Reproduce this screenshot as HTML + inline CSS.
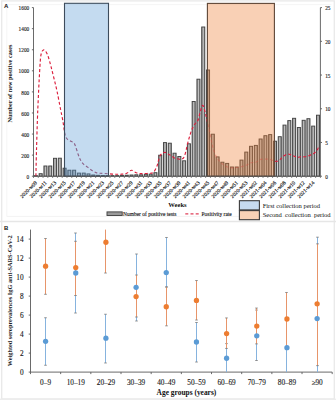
<!DOCTYPE html><html><head><meta charset="utf-8"><style>
html,body{margin:0;padding:0;background:#fff;width:336px;height:400px;overflow:hidden}
svg{display:block}
.s{font-family:"Liberation Serif",serif}
.ss{font-family:"Liberation Sans",sans-serif}
</style></head><body>
<svg width="336" height="400" viewBox="0 0 336 400">
<rect width="336" height="400" fill="#fff"/>
<g fill="none">
<path d="M6.8,216.4V4.6H331.5" stroke="#f5f5f5" stroke-width="1"/>
<path d="M6.8,216.4H331.5" stroke="#f3f3f3" stroke-width="1"/>
<rect x="1.7" y="0.9" width="332.6" height="398" stroke="#e9e9e9" stroke-width="1.3"/>
<line x1="0" y1="221.6" x2="336" y2="221.6" stroke="#e6e6e6" stroke-width="1.5"/>
</g>
<rect x="0" y="398.6" width="336" height="1.4" fill="#ededed"/>
<text class="ss" x="4" y="8.3" font-size="6.0" font-weight="bold" fill="#111">A</text>
<defs><linearGradient id="bg" x1="0" x2="1" y1="0" y2="0"><stop offset="0" stop-color="#747474"/><stop offset="0.5" stop-color="#bcbcbc"/><stop offset="1" stop-color="#747474"/></linearGradient></defs>
<g fill="url(#bg)" fill-opacity="0.92" stroke="#444" stroke-width="0.95">
<rect x="34.37" y="175.70" width="3.05" height="0.50"/>
<rect x="39.15" y="173.70" width="3.05" height="2.50"/>
<rect x="43.93" y="166.00" width="3.05" height="10.20"/>
<rect x="48.71" y="166.00" width="3.05" height="10.20"/>
<rect x="53.49" y="158.30" width="3.05" height="17.90"/>
<rect x="58.27" y="158.20" width="3.05" height="18.00"/>
<rect x="63.06" y="168.20" width="3.05" height="8.00"/>
<rect x="67.84" y="170.20" width="3.05" height="6.00"/>
<rect x="72.62" y="170.20" width="3.05" height="6.00"/>
<rect x="77.40" y="173.10" width="3.05" height="3.10"/>
<rect x="82.18" y="173.10" width="3.05" height="3.10"/>
<rect x="86.96" y="173.90" width="3.05" height="2.30"/>
<rect x="91.75" y="175.00" width="3.05" height="1.20"/>
<rect x="96.53" y="175.30" width="3.05" height="0.90"/>
<rect x="101.31" y="175.50" width="3.05" height="0.70"/>
<rect x="106.09" y="175.50" width="3.05" height="0.70"/>
<rect x="110.87" y="175.60" width="3.05" height="0.60"/>
<rect x="115.65" y="175.60" width="3.05" height="0.60"/>
<rect x="120.44" y="175.40" width="3.05" height="0.80"/>
<rect x="125.22" y="175.20" width="3.05" height="1.00"/>
<rect x="130.00" y="175.00" width="3.05" height="1.20"/>
<rect x="134.78" y="174.80" width="3.05" height="1.40"/>
<rect x="139.56" y="174.80" width="3.05" height="1.40"/>
<rect x="144.34" y="174.30" width="3.05" height="1.90"/>
<rect x="149.13" y="174.10" width="3.05" height="2.10"/>
<rect x="153.91" y="172.70" width="3.05" height="3.50"/>
<rect x="158.69" y="155.20" width="3.05" height="21.00"/>
<rect x="163.47" y="142.60" width="3.05" height="33.60"/>
<rect x="168.25" y="143.20" width="3.05" height="33.00"/>
<rect x="173.03" y="153.20" width="3.05" height="23.00"/>
<rect x="177.82" y="156.50" width="3.05" height="19.70"/>
<rect x="182.60" y="160.80" width="3.05" height="15.40"/>
<rect x="187.38" y="143.80" width="3.05" height="32.40"/>
<rect x="192.16" y="101.50" width="3.05" height="74.70"/>
<rect x="196.94" y="79.20" width="3.05" height="97.00"/>
<rect x="201.72" y="27.00" width="3.05" height="149.20"/>
<rect x="206.51" y="70.00" width="3.05" height="106.20"/>
<rect x="211.29" y="134.20" width="3.05" height="42.00"/>
<rect x="216.07" y="156.90" width="3.05" height="19.30"/>
<rect x="220.85" y="162.20" width="3.05" height="14.00"/>
<rect x="225.63" y="163.40" width="3.05" height="12.80"/>
<rect x="230.41" y="167.00" width="3.05" height="9.20"/>
<rect x="235.20" y="167.00" width="3.05" height="9.20"/>
<rect x="239.98" y="160.10" width="3.05" height="16.10"/>
<rect x="244.76" y="152.10" width="3.05" height="24.10"/>
<rect x="249.54" y="146.30" width="3.05" height="29.90"/>
<rect x="254.32" y="145.40" width="3.05" height="30.80"/>
<rect x="259.10" y="139.00" width="3.05" height="37.20"/>
<rect x="263.89" y="135.70" width="3.05" height="40.50"/>
<rect x="268.67" y="134.60" width="3.05" height="41.60"/>
<rect x="273.45" y="141.20" width="3.05" height="35.00"/>
<rect x="278.23" y="136.70" width="3.05" height="39.50"/>
<rect x="283.01" y="125.10" width="3.05" height="51.10"/>
<rect x="287.79" y="120.60" width="3.05" height="55.60"/>
<rect x="292.58" y="118.30" width="3.05" height="57.90"/>
<rect x="297.36" y="127.50" width="3.05" height="48.70"/>
<rect x="302.14" y="120.30" width="3.05" height="55.90"/>
<rect x="306.92" y="118.70" width="3.05" height="57.50"/>
<rect x="311.70" y="126.10" width="3.05" height="50.10"/>
<rect x="316.48" y="115.20" width="3.05" height="61.00"/>
</g>
<defs><clipPath id="cOut"><path d="M0,0H64.5V180H0Z M108.5,0H207.4V180H108.5Z M274.4,0H336V180H274.4Z"/></clipPath><clipPath id="cB"><rect x="64.5" y="0" width="44" height="180"/></clipPath><clipPath id="cO"><rect x="207.4" y="0" width="67" height="180"/></clipPath></defs>
<path id="rl" d="M35.90,176.00 C36.00,171.67 36.25,159.33 36.50,150.00 C36.75,140.67 37.10,128.67 37.40,120.00 C37.70,111.33 37.98,105.08 38.30,98.00 C38.62,90.92 38.93,84.08 39.30,77.50 C39.67,70.92 40.08,62.75 40.50,58.50 C40.92,54.25 41.32,53.42 41.80,52.00 C42.28,50.58 42.85,50.23 43.40,50.00 C43.95,49.77 44.53,50.07 45.10,50.60 C45.67,51.13 46.23,52.05 46.80,53.20 C47.37,54.35 47.80,55.28 48.50,57.50 C49.20,59.72 50.08,63.00 51.00,66.50 C51.92,70.00 53.00,74.42 54.00,78.50 C55.00,82.58 55.92,85.92 57.00,91.00 C58.08,96.08 59.53,104.08 60.50,109.00 C61.47,113.92 62.17,116.92 62.80,120.50 C63.43,124.08 63.83,127.82 64.30,130.50 C64.77,133.18 65.02,135.08 65.60,136.60 C66.18,138.12 66.90,138.82 67.80,139.60 C68.70,140.38 70.02,140.80 71.00,141.30 C71.98,141.80 72.93,141.73 73.70,142.60 C74.47,143.47 74.85,144.52 75.60,146.50 C76.35,148.48 77.38,152.25 78.20,154.50 C79.02,156.75 79.62,158.38 80.50,160.00 C81.38,161.62 82.25,162.97 83.50,164.20 C84.75,165.43 86.50,166.30 88.00,167.40 C89.50,168.50 91.17,169.93 92.50,170.80 C93.83,171.67 94.75,172.18 96.00,172.60 C97.25,173.02 98.50,173.15 100.00,173.30 C101.50,173.45 102.93,173.37 105.00,173.50 C107.07,173.63 110.37,173.98 112.40,174.10 C114.43,174.22 115.60,174.20 117.20,174.20 C118.80,174.20 120.40,174.27 122.00,174.10 C123.60,173.93 125.22,173.83 126.80,173.20 C128.38,172.57 129.92,170.37 131.50,170.30 C133.08,170.23 134.70,172.25 136.30,172.80 C137.90,173.35 139.50,173.48 141.10,173.60 C142.70,173.72 144.30,173.57 145.90,173.50 C147.50,173.43 149.38,173.45 150.70,173.20 C152.02,172.95 152.77,173.15 153.80,172.00 C154.83,170.85 156.13,168.17 156.90,166.30 C157.67,164.43 157.85,162.58 158.40,160.80 C158.95,159.02 159.52,156.88 160.20,155.60 C160.88,154.32 161.60,153.62 162.50,153.10 C163.40,152.58 164.55,152.28 165.60,152.50 C166.65,152.72 167.82,153.85 168.80,154.40 C169.78,154.95 170.57,155.20 171.50,155.80 C172.43,156.40 173.40,157.50 174.40,158.00 C175.40,158.50 176.35,158.60 177.50,158.80 C178.65,159.00 180.13,159.67 181.30,159.20 C182.47,158.73 183.33,159.03 184.50,156.00 C185.67,152.97 187.13,145.25 188.30,141.00 C189.47,136.75 190.47,133.25 191.50,130.50 C192.53,127.75 193.43,126.17 194.50,124.50 C195.57,122.83 196.93,122.67 197.90,120.50 C198.87,118.33 199.48,114.02 200.30,111.50 C201.12,108.98 201.95,105.10 202.80,105.40 C203.65,105.70 204.65,110.62 205.40,113.30 C206.15,115.98 206.58,118.47 207.30,121.50 C208.02,124.53 208.87,127.58 209.70,131.50 C210.53,135.42 211.45,141.43 212.30,145.00 C213.15,148.57 213.97,150.63 214.80,152.90 C215.63,155.17 216.28,157.00 217.30,158.60 C218.32,160.20 219.57,161.27 220.90,162.50 C222.23,163.73 223.70,165.12 225.30,166.00 C226.90,166.88 228.75,167.53 230.50,167.80 C232.25,168.07 234.00,167.77 235.80,167.60 C237.60,167.43 239.55,167.20 241.30,166.80 C243.05,166.40 244.81,165.82 246.30,165.20 C247.79,164.58 249.15,163.55 250.25,163.10 C251.35,162.65 252.04,162.58 252.90,162.50 C253.76,162.42 254.48,162.92 255.40,162.60 C256.32,162.28 257.53,161.13 258.40,160.60 C259.27,160.07 259.67,159.65 260.60,159.40 C261.53,159.15 262.92,159.15 264.00,159.10 C265.08,159.05 266.06,159.05 267.10,159.10 C268.14,159.15 269.10,159.08 270.25,159.40 C271.40,159.72 272.92,160.68 274.00,161.00 C275.08,161.32 275.82,161.47 276.75,161.30 C277.68,161.13 278.81,160.53 279.60,160.00 C280.39,159.47 280.68,158.85 281.50,158.10 C282.32,157.35 283.45,156.18 284.50,155.50 C285.55,154.82 286.70,154.10 287.80,154.00 C288.90,153.90 290.00,154.53 291.10,154.90 C292.20,155.27 293.32,155.80 294.40,156.20 C295.48,156.60 296.52,157.20 297.60,157.30 C298.68,157.40 299.80,156.88 300.90,156.80 C302.00,156.72 303.10,156.90 304.20,156.80 C305.30,156.70 306.42,156.52 307.50,156.20 C308.58,155.88 309.62,155.37 310.70,154.90 C311.78,154.43 312.90,154.25 314.00,153.40 C315.10,152.55 316.57,150.78 317.30,149.80 C318.03,148.82 318.22,147.88 318.40,147.50" fill="none" stroke="#dc1e3c" stroke-width="1.15" stroke-dasharray="3,2.2" clip-path="url(#cOut)"/>
<path d="M35.90,176.00 C36.00,171.67 36.25,159.33 36.50,150.00 C36.75,140.67 37.10,128.67 37.40,120.00 C37.70,111.33 37.98,105.08 38.30,98.00 C38.62,90.92 38.93,84.08 39.30,77.50 C39.67,70.92 40.08,62.75 40.50,58.50 C40.92,54.25 41.32,53.42 41.80,52.00 C42.28,50.58 42.85,50.23 43.40,50.00 C43.95,49.77 44.53,50.07 45.10,50.60 C45.67,51.13 46.23,52.05 46.80,53.20 C47.37,54.35 47.80,55.28 48.50,57.50 C49.20,59.72 50.08,63.00 51.00,66.50 C51.92,70.00 53.00,74.42 54.00,78.50 C55.00,82.58 55.92,85.92 57.00,91.00 C58.08,96.08 59.53,104.08 60.50,109.00 C61.47,113.92 62.17,116.92 62.80,120.50 C63.43,124.08 63.83,127.82 64.30,130.50 C64.77,133.18 65.02,135.08 65.60,136.60 C66.18,138.12 66.90,138.82 67.80,139.60 C68.70,140.38 70.02,140.80 71.00,141.30 C71.98,141.80 72.93,141.73 73.70,142.60 C74.47,143.47 74.85,144.52 75.60,146.50 C76.35,148.48 77.38,152.25 78.20,154.50 C79.02,156.75 79.62,158.38 80.50,160.00 C81.38,161.62 82.25,162.97 83.50,164.20 C84.75,165.43 86.50,166.30 88.00,167.40 C89.50,168.50 91.17,169.93 92.50,170.80 C93.83,171.67 94.75,172.18 96.00,172.60 C97.25,173.02 98.50,173.15 100.00,173.30 C101.50,173.45 102.93,173.37 105.00,173.50 C107.07,173.63 110.37,173.98 112.40,174.10 C114.43,174.22 115.60,174.20 117.20,174.20 C118.80,174.20 120.40,174.27 122.00,174.10 C123.60,173.93 125.22,173.83 126.80,173.20 C128.38,172.57 129.92,170.37 131.50,170.30 C133.08,170.23 134.70,172.25 136.30,172.80 C137.90,173.35 139.50,173.48 141.10,173.60 C142.70,173.72 144.30,173.57 145.90,173.50 C147.50,173.43 149.38,173.45 150.70,173.20 C152.02,172.95 152.77,173.15 153.80,172.00 C154.83,170.85 156.13,168.17 156.90,166.30 C157.67,164.43 157.85,162.58 158.40,160.80 C158.95,159.02 159.52,156.88 160.20,155.60 C160.88,154.32 161.60,153.62 162.50,153.10 C163.40,152.58 164.55,152.28 165.60,152.50 C166.65,152.72 167.82,153.85 168.80,154.40 C169.78,154.95 170.57,155.20 171.50,155.80 C172.43,156.40 173.40,157.50 174.40,158.00 C175.40,158.50 176.35,158.60 177.50,158.80 C178.65,159.00 180.13,159.67 181.30,159.20 C182.47,158.73 183.33,159.03 184.50,156.00 C185.67,152.97 187.13,145.25 188.30,141.00 C189.47,136.75 190.47,133.25 191.50,130.50 C192.53,127.75 193.43,126.17 194.50,124.50 C195.57,122.83 196.93,122.67 197.90,120.50 C198.87,118.33 199.48,114.02 200.30,111.50 C201.12,108.98 201.95,105.10 202.80,105.40 C203.65,105.70 204.65,110.62 205.40,113.30 C206.15,115.98 206.58,118.47 207.30,121.50 C208.02,124.53 208.87,127.58 209.70,131.50 C210.53,135.42 211.45,141.43 212.30,145.00 C213.15,148.57 213.97,150.63 214.80,152.90 C215.63,155.17 216.28,157.00 217.30,158.60 C218.32,160.20 219.57,161.27 220.90,162.50 C222.23,163.73 223.70,165.12 225.30,166.00 C226.90,166.88 228.75,167.53 230.50,167.80 C232.25,168.07 234.00,167.77 235.80,167.60 C237.60,167.43 239.55,167.20 241.30,166.80 C243.05,166.40 244.81,165.82 246.30,165.20 C247.79,164.58 249.15,163.55 250.25,163.10 C251.35,162.65 252.04,162.58 252.90,162.50 C253.76,162.42 254.48,162.92 255.40,162.60 C256.32,162.28 257.53,161.13 258.40,160.60 C259.27,160.07 259.67,159.65 260.60,159.40 C261.53,159.15 262.92,159.15 264.00,159.10 C265.08,159.05 266.06,159.05 267.10,159.10 C268.14,159.15 269.10,159.08 270.25,159.40 C271.40,159.72 272.92,160.68 274.00,161.00 C275.08,161.32 275.82,161.47 276.75,161.30 C277.68,161.13 278.81,160.53 279.60,160.00 C280.39,159.47 280.68,158.85 281.50,158.10 C282.32,157.35 283.45,156.18 284.50,155.50 C285.55,154.82 286.70,154.10 287.80,154.00 C288.90,153.90 290.00,154.53 291.10,154.90 C292.20,155.27 293.32,155.80 294.40,156.20 C295.48,156.60 296.52,157.20 297.60,157.30 C298.68,157.40 299.80,156.88 300.90,156.80 C302.00,156.72 303.10,156.90 304.20,156.80 C305.30,156.70 306.42,156.52 307.50,156.20 C308.58,155.88 309.62,155.37 310.70,154.90 C311.78,154.43 312.90,154.25 314.00,153.40 C315.10,152.55 316.57,150.78 317.30,149.80 C318.03,148.82 318.22,147.88 318.40,147.50" fill="none" stroke="#a8445f" stroke-width="1.15" stroke-dasharray="3,2.2" clip-path="url(#cB)"/>
<path d="M35.90,176.00 C36.00,171.67 36.25,159.33 36.50,150.00 C36.75,140.67 37.10,128.67 37.40,120.00 C37.70,111.33 37.98,105.08 38.30,98.00 C38.62,90.92 38.93,84.08 39.30,77.50 C39.67,70.92 40.08,62.75 40.50,58.50 C40.92,54.25 41.32,53.42 41.80,52.00 C42.28,50.58 42.85,50.23 43.40,50.00 C43.95,49.77 44.53,50.07 45.10,50.60 C45.67,51.13 46.23,52.05 46.80,53.20 C47.37,54.35 47.80,55.28 48.50,57.50 C49.20,59.72 50.08,63.00 51.00,66.50 C51.92,70.00 53.00,74.42 54.00,78.50 C55.00,82.58 55.92,85.92 57.00,91.00 C58.08,96.08 59.53,104.08 60.50,109.00 C61.47,113.92 62.17,116.92 62.80,120.50 C63.43,124.08 63.83,127.82 64.30,130.50 C64.77,133.18 65.02,135.08 65.60,136.60 C66.18,138.12 66.90,138.82 67.80,139.60 C68.70,140.38 70.02,140.80 71.00,141.30 C71.98,141.80 72.93,141.73 73.70,142.60 C74.47,143.47 74.85,144.52 75.60,146.50 C76.35,148.48 77.38,152.25 78.20,154.50 C79.02,156.75 79.62,158.38 80.50,160.00 C81.38,161.62 82.25,162.97 83.50,164.20 C84.75,165.43 86.50,166.30 88.00,167.40 C89.50,168.50 91.17,169.93 92.50,170.80 C93.83,171.67 94.75,172.18 96.00,172.60 C97.25,173.02 98.50,173.15 100.00,173.30 C101.50,173.45 102.93,173.37 105.00,173.50 C107.07,173.63 110.37,173.98 112.40,174.10 C114.43,174.22 115.60,174.20 117.20,174.20 C118.80,174.20 120.40,174.27 122.00,174.10 C123.60,173.93 125.22,173.83 126.80,173.20 C128.38,172.57 129.92,170.37 131.50,170.30 C133.08,170.23 134.70,172.25 136.30,172.80 C137.90,173.35 139.50,173.48 141.10,173.60 C142.70,173.72 144.30,173.57 145.90,173.50 C147.50,173.43 149.38,173.45 150.70,173.20 C152.02,172.95 152.77,173.15 153.80,172.00 C154.83,170.85 156.13,168.17 156.90,166.30 C157.67,164.43 157.85,162.58 158.40,160.80 C158.95,159.02 159.52,156.88 160.20,155.60 C160.88,154.32 161.60,153.62 162.50,153.10 C163.40,152.58 164.55,152.28 165.60,152.50 C166.65,152.72 167.82,153.85 168.80,154.40 C169.78,154.95 170.57,155.20 171.50,155.80 C172.43,156.40 173.40,157.50 174.40,158.00 C175.40,158.50 176.35,158.60 177.50,158.80 C178.65,159.00 180.13,159.67 181.30,159.20 C182.47,158.73 183.33,159.03 184.50,156.00 C185.67,152.97 187.13,145.25 188.30,141.00 C189.47,136.75 190.47,133.25 191.50,130.50 C192.53,127.75 193.43,126.17 194.50,124.50 C195.57,122.83 196.93,122.67 197.90,120.50 C198.87,118.33 199.48,114.02 200.30,111.50 C201.12,108.98 201.95,105.10 202.80,105.40 C203.65,105.70 204.65,110.62 205.40,113.30 C206.15,115.98 206.58,118.47 207.30,121.50 C208.02,124.53 208.87,127.58 209.70,131.50 C210.53,135.42 211.45,141.43 212.30,145.00 C213.15,148.57 213.97,150.63 214.80,152.90 C215.63,155.17 216.28,157.00 217.30,158.60 C218.32,160.20 219.57,161.27 220.90,162.50 C222.23,163.73 223.70,165.12 225.30,166.00 C226.90,166.88 228.75,167.53 230.50,167.80 C232.25,168.07 234.00,167.77 235.80,167.60 C237.60,167.43 239.55,167.20 241.30,166.80 C243.05,166.40 244.81,165.82 246.30,165.20 C247.79,164.58 249.15,163.55 250.25,163.10 C251.35,162.65 252.04,162.58 252.90,162.50 C253.76,162.42 254.48,162.92 255.40,162.60 C256.32,162.28 257.53,161.13 258.40,160.60 C259.27,160.07 259.67,159.65 260.60,159.40 C261.53,159.15 262.92,159.15 264.00,159.10 C265.08,159.05 266.06,159.05 267.10,159.10 C268.14,159.15 269.10,159.08 270.25,159.40 C271.40,159.72 272.92,160.68 274.00,161.00 C275.08,161.32 275.82,161.47 276.75,161.30 C277.68,161.13 278.81,160.53 279.60,160.00 C280.39,159.47 280.68,158.85 281.50,158.10 C282.32,157.35 283.45,156.18 284.50,155.50 C285.55,154.82 286.70,154.10 287.80,154.00 C288.90,153.90 290.00,154.53 291.10,154.90 C292.20,155.27 293.32,155.80 294.40,156.20 C295.48,156.60 296.52,157.20 297.60,157.30 C298.68,157.40 299.80,156.88 300.90,156.80 C302.00,156.72 303.10,156.90 304.20,156.80 C305.30,156.70 306.42,156.52 307.50,156.20 C308.58,155.88 309.62,155.37 310.70,154.90 C311.78,154.43 312.90,154.25 314.00,153.40 C315.10,152.55 316.57,150.78 317.30,149.80 C318.03,148.82 318.22,147.88 318.40,147.50" fill="none" stroke="#c83c50" stroke-opacity="0.45" stroke-width="1.15" stroke-dasharray="3,2.2" clip-path="url(#cO)"/>
<rect x="64.5" y="3.3" width="44.0" height="172.9" fill="#5B9BD5" fill-opacity="0.36" stroke="#3d4c5c" stroke-width="1.1"/>
<rect x="207.4" y="3.4" width="67.0" height="172.8" fill="#ED7D31" fill-opacity="0.36" stroke="#5e4636" stroke-width="1.1"/>
<g stroke="#595959" stroke-width="0.9" fill="none">
<line x1="33.50" y1="7.60" x2="33.50" y2="176.20"/>
<line x1="320.40" y1="7.60" x2="320.40" y2="176.20"/>
<line x1="33.50" y1="176.20" x2="320.40" y2="176.20"/>
<line x1="31.90" y1="176.20" x2="33.50" y2="176.20"/>
<line x1="31.90" y1="155.12" x2="33.50" y2="155.12"/>
<line x1="31.90" y1="134.05" x2="33.50" y2="134.05"/>
<line x1="31.90" y1="112.97" x2="33.50" y2="112.97"/>
<line x1="31.90" y1="91.90" x2="33.50" y2="91.90"/>
<line x1="31.90" y1="70.82" x2="33.50" y2="70.82"/>
<line x1="31.90" y1="49.75" x2="33.50" y2="49.75"/>
<line x1="31.90" y1="28.67" x2="33.50" y2="28.67"/>
<line x1="31.90" y1="7.60" x2="33.50" y2="7.60"/>
<line x1="320.40" y1="176.20" x2="322.00" y2="176.20"/>
<line x1="320.40" y1="142.48" x2="322.00" y2="142.48"/>
<line x1="320.40" y1="108.76" x2="322.00" y2="108.76"/>
<line x1="320.40" y1="75.04" x2="322.00" y2="75.04"/>
<line x1="320.40" y1="41.32" x2="322.00" y2="41.32"/>
<line x1="320.40" y1="7.60" x2="322.00" y2="7.60"/>
<line x1="33.50" y1="176.20" x2="33.50" y2="177.80"/>
<line x1="38.28" y1="176.20" x2="38.28" y2="177.80"/>
<line x1="43.06" y1="176.20" x2="43.06" y2="177.80"/>
<line x1="47.84" y1="176.20" x2="47.84" y2="177.80"/>
<line x1="52.63" y1="176.20" x2="52.63" y2="177.80"/>
<line x1="57.41" y1="176.20" x2="57.41" y2="177.80"/>
<line x1="62.19" y1="176.20" x2="62.19" y2="177.80"/>
<line x1="66.97" y1="176.20" x2="66.97" y2="177.80"/>
<line x1="71.75" y1="176.20" x2="71.75" y2="177.80"/>
<line x1="76.53" y1="176.20" x2="76.53" y2="177.80"/>
<line x1="81.32" y1="176.20" x2="81.32" y2="177.80"/>
<line x1="86.10" y1="176.20" x2="86.10" y2="177.80"/>
<line x1="90.88" y1="176.20" x2="90.88" y2="177.80"/>
<line x1="95.66" y1="176.20" x2="95.66" y2="177.80"/>
<line x1="100.44" y1="176.20" x2="100.44" y2="177.80"/>
<line x1="105.22" y1="176.20" x2="105.22" y2="177.80"/>
<line x1="110.01" y1="176.20" x2="110.01" y2="177.80"/>
<line x1="114.79" y1="176.20" x2="114.79" y2="177.80"/>
<line x1="119.57" y1="176.20" x2="119.57" y2="177.80"/>
<line x1="124.35" y1="176.20" x2="124.35" y2="177.80"/>
<line x1="129.13" y1="176.20" x2="129.13" y2="177.80"/>
<line x1="133.91" y1="176.20" x2="133.91" y2="177.80"/>
<line x1="138.70" y1="176.20" x2="138.70" y2="177.80"/>
<line x1="143.48" y1="176.20" x2="143.48" y2="177.80"/>
<line x1="148.26" y1="176.20" x2="148.26" y2="177.80"/>
<line x1="153.04" y1="176.20" x2="153.04" y2="177.80"/>
<line x1="157.82" y1="176.20" x2="157.82" y2="177.80"/>
<line x1="162.60" y1="176.20" x2="162.60" y2="177.80"/>
<line x1="167.39" y1="176.20" x2="167.39" y2="177.80"/>
<line x1="172.17" y1="176.20" x2="172.17" y2="177.80"/>
<line x1="176.95" y1="176.20" x2="176.95" y2="177.80"/>
<line x1="181.73" y1="176.20" x2="181.73" y2="177.80"/>
<line x1="186.51" y1="176.20" x2="186.51" y2="177.80"/>
<line x1="191.29" y1="176.20" x2="191.29" y2="177.80"/>
<line x1="196.08" y1="176.20" x2="196.08" y2="177.80"/>
<line x1="200.86" y1="176.20" x2="200.86" y2="177.80"/>
<line x1="205.64" y1="176.20" x2="205.64" y2="177.80"/>
<line x1="210.42" y1="176.20" x2="210.42" y2="177.80"/>
<line x1="215.20" y1="176.20" x2="215.20" y2="177.80"/>
<line x1="219.98" y1="176.20" x2="219.98" y2="177.80"/>
<line x1="224.77" y1="176.20" x2="224.77" y2="177.80"/>
<line x1="229.55" y1="176.20" x2="229.55" y2="177.80"/>
<line x1="234.33" y1="176.20" x2="234.33" y2="177.80"/>
<line x1="239.11" y1="176.20" x2="239.11" y2="177.80"/>
<line x1="243.89" y1="176.20" x2="243.89" y2="177.80"/>
<line x1="248.67" y1="176.20" x2="248.67" y2="177.80"/>
<line x1="253.46" y1="176.20" x2="253.46" y2="177.80"/>
<line x1="258.24" y1="176.20" x2="258.24" y2="177.80"/>
<line x1="263.02" y1="176.20" x2="263.02" y2="177.80"/>
<line x1="267.80" y1="176.20" x2="267.80" y2="177.80"/>
<line x1="272.58" y1="176.20" x2="272.58" y2="177.80"/>
<line x1="277.37" y1="176.20" x2="277.37" y2="177.80"/>
<line x1="282.15" y1="176.20" x2="282.15" y2="177.80"/>
<line x1="286.93" y1="176.20" x2="286.93" y2="177.80"/>
<line x1="291.71" y1="176.20" x2="291.71" y2="177.80"/>
<line x1="296.49" y1="176.20" x2="296.49" y2="177.80"/>
<line x1="301.27" y1="176.20" x2="301.27" y2="177.80"/>
<line x1="306.05" y1="176.20" x2="306.05" y2="177.80"/>
<line x1="310.84" y1="176.20" x2="310.84" y2="177.80"/>
<line x1="315.62" y1="176.20" x2="315.62" y2="177.80"/>
<line x1="320.40" y1="176.20" x2="320.40" y2="177.80"/>
</g>
<g class="s" font-size="5.3" fill="#1a1a1a" stroke="#1a1a1a" stroke-width="0.12" text-anchor="end">
<text x="29.2" y="178.80">0</text>
<text x="29.2" y="157.72">200</text>
<text x="29.2" y="136.65">400</text>
<text x="29.2" y="115.57">600</text>
<text x="29.2" y="94.50">800</text>
<text x="29.2" y="73.42">1000</text>
<text x="29.2" y="52.35">1200</text>
<text x="29.2" y="31.27">1400</text>
<text x="29.2" y="10.20">1600</text>
</g>
<g class="s" font-size="5.3" fill="#1a1a1a" stroke="#1a1a1a" stroke-width="0.12" text-anchor="start">
<text x="325.2" y="178.80">0</text>
<text x="325.2" y="145.08">5</text>
<text x="325.2" y="111.36">10</text>
<text x="325.2" y="77.64">15</text>
<text x="325.2" y="43.92">20</text>
<text x="325.2" y="10.20">25</text>
</g>
<g class="s" font-size="5.35" fill="#111" stroke="#111" stroke-width="0.15" text-anchor="end">
<text transform="translate(37.49,183.10) rotate(-45)">2020-w09</text>
<text transform="translate(47.05,183.10) rotate(-45)">2020-w11</text>
<text transform="translate(56.62,183.10) rotate(-45)">2020-w13</text>
<text transform="translate(66.18,183.10) rotate(-45)">2020-w15</text>
<text transform="translate(75.74,183.10) rotate(-45)">2020-w17</text>
<text transform="translate(85.31,183.10) rotate(-45)">2020-w19</text>
<text transform="translate(94.87,183.10) rotate(-45)">2020-w21</text>
<text transform="translate(104.43,183.10) rotate(-45)">2020-w23</text>
<text transform="translate(114.00,183.10) rotate(-45)">2020-w25</text>
<text transform="translate(123.56,183.10) rotate(-45)">2020-w27</text>
<text transform="translate(133.12,183.10) rotate(-45)">2020-w29</text>
<text transform="translate(142.69,183.10) rotate(-45)">2020-w31</text>
<text transform="translate(152.25,183.10) rotate(-45)">2020-w33</text>
<text transform="translate(161.81,183.10) rotate(-45)">2020-w35</text>
<text transform="translate(171.38,183.10) rotate(-45)">2020-w37</text>
<text transform="translate(180.94,183.10) rotate(-45)">2020-w39</text>
<text transform="translate(190.50,183.10) rotate(-45)">2020-w41</text>
<text transform="translate(200.07,183.10) rotate(-45)">2020-w43</text>
<text transform="translate(209.63,183.10) rotate(-45)">2020-w45</text>
<text transform="translate(219.19,183.10) rotate(-45)">2020-w47</text>
<text transform="translate(228.76,183.10) rotate(-45)">2020-w49</text>
<text transform="translate(238.32,183.10) rotate(-45)">2020-w51</text>
<text transform="translate(247.88,183.10) rotate(-45)">2020-w53</text>
<text transform="translate(257.45,183.10) rotate(-45)">2021-w02</text>
<text transform="translate(267.01,183.10) rotate(-45)">2021-w04</text>
<text transform="translate(276.57,183.10) rotate(-45)">2021-w06</text>
<text transform="translate(286.14,183.10) rotate(-45)">2021-w08</text>
<text transform="translate(295.70,183.10) rotate(-45)">2021-w10</text>
<text transform="translate(305.26,183.10) rotate(-45)">2021-w12</text>
<text transform="translate(314.83,183.10) rotate(-45)">2021-w14</text>
</g>
<text class="s" x="177.5" y="206.6" font-size="6.6" font-weight="bold" fill="#111" text-anchor="middle">Weeks</text>
<text class="s" transform="translate(11.9,83.6) rotate(-90)" font-size="6.9" font-weight="bold" fill="#111" text-anchor="middle" textLength="78" lengthAdjust="spacingAndGlyphs">Number of new positive cases</text>
<rect x="107" y="211.9" width="15.2" height="3.6" fill="#9a9a9a" stroke="#444" stroke-width="0.95"/>
<text class="s" x="123.1" y="215.9" font-size="5.45" fill="#111" stroke="#111" stroke-width="0.12">Number of positive tests</text>
<line x1="185.3" y1="213.9" x2="200.6" y2="213.9" stroke="#e0405a" stroke-width="1.2" stroke-dasharray="3,2.2"/>
<text class="s" x="201.6" y="215.9" font-size="5.4" fill="#111" stroke="#111" stroke-width="0.12">Positivity rate</text>
<rect x="239.4" y="200.7" width="20" height="9.2" fill="#c6dbf0" stroke="#3a3a3a" stroke-width="1.1"/>
<rect x="239.4" y="210.6" width="20" height="9.1" fill="#f9d2b6" stroke="#3a3a3a" stroke-width="1.1"/>
<text class="s" x="262.7" y="208.3" font-size="6.5" fill="#111">First collection period</text>
<text class="s" x="262.7" y="216.9" font-size="6.5" fill="#111" word-spacing="1.6">Second collection period</text>
<text class="ss" x="3.9" y="230.1" font-size="6.0" font-weight="bold" fill="#111">B</text>
<g stroke="#595959" stroke-width="0.9" fill="none">
<line x1="30.50" y1="229.60" x2="30.50" y2="372.10"/>
<line x1="30.50" y1="372.10" x2="332.20" y2="372.10"/>
<line x1="28.70" y1="372.10" x2="30.50" y2="372.10"/>
<line x1="28.70" y1="353.10" x2="30.50" y2="353.10"/>
<line x1="28.70" y1="334.10" x2="30.50" y2="334.10"/>
<line x1="28.70" y1="315.10" x2="30.50" y2="315.10"/>
<line x1="28.70" y1="296.10" x2="30.50" y2="296.10"/>
<line x1="28.70" y1="277.10" x2="30.50" y2="277.10"/>
<line x1="28.70" y1="258.10" x2="30.50" y2="258.10"/>
<line x1="28.70" y1="239.10" x2="30.50" y2="239.10"/>
<line x1="30.50" y1="372.10" x2="30.50" y2="374.10"/>
<line x1="60.67" y1="372.10" x2="60.67" y2="374.10"/>
<line x1="90.84" y1="372.10" x2="90.84" y2="374.10"/>
<line x1="121.01" y1="372.10" x2="121.01" y2="374.10"/>
<line x1="151.18" y1="372.10" x2="151.18" y2="374.10"/>
<line x1="181.35" y1="372.10" x2="181.35" y2="374.10"/>
<line x1="211.52" y1="372.10" x2="211.52" y2="374.10"/>
<line x1="241.69" y1="372.10" x2="241.69" y2="374.10"/>
<line x1="271.86" y1="372.10" x2="271.86" y2="374.10"/>
<line x1="302.03" y1="372.10" x2="302.03" y2="374.10"/>
<line x1="332.20" y1="372.10" x2="332.20" y2="374.10"/>
</g>
<g class="s" font-size="7.3" fill="#1a1a1a" stroke="#1a1a1a" stroke-width="0.12" text-anchor="end">
<text x="23.6" y="374.60">0</text>
<text x="23.6" y="355.60">2</text>
<text x="23.6" y="336.60">4</text>
<text x="23.6" y="317.60">6</text>
<text x="23.6" y="298.60">8</text>
<text x="23.6" y="279.60">10</text>
<text x="23.6" y="260.60">12</text>
<text x="23.6" y="241.60">14</text>
</g>
<g class="s" font-size="7.3" fill="#1a1a1a" stroke="#1a1a1a" stroke-width="0.12" text-anchor="middle">
<text x="45.59" y="384.7">0–9</text>
<text x="75.75" y="384.7">10–19</text>
<text x="105.92" y="384.7">20–29</text>
<text x="136.09" y="384.7">30–39</text>
<text x="166.26" y="384.7">40–49</text>
<text x="196.44" y="384.7">50–59</text>
<text x="226.60" y="384.7">60–69</text>
<text x="256.77" y="384.7">70–79</text>
<text x="286.94" y="384.7">80–89</text>
<text x="317.12" y="384.7">≥90</text>
</g>
<text class="s" x="156.6" y="394.7" font-size="7.8" font-weight="bold" fill="#111" textLength="59.7" lengthAdjust="spacingAndGlyphs">Age groups (years)</text>
<text class="s" transform="translate(11.6,300.75) rotate(-90)" font-size="6.7" font-weight="bold" fill="#222" text-anchor="middle" textLength="131" lengthAdjust="spacingAndGlyphs">Weighted seroprevalences IgG anti-SARS-CoV-2</text>
<line x1="45.50" y1="317.76" x2="45.50" y2="365.26" stroke="#86b3de" stroke-width="1.0"/>
<line x1="44.20" y1="317.76" x2="46.80" y2="317.76" stroke="#7a7a7a" stroke-width="0.8"/>
<line x1="44.20" y1="365.26" x2="46.80" y2="365.26" stroke="#7a7a7a" stroke-width="0.8"/>
<line x1="75.50" y1="233.02" x2="75.50" y2="313.01" stroke="#86b3de" stroke-width="1.0"/>
<line x1="74.20" y1="233.02" x2="76.80" y2="233.02" stroke="#7a7a7a" stroke-width="0.8"/>
<line x1="74.20" y1="313.01" x2="76.80" y2="313.01" stroke="#7a7a7a" stroke-width="0.8"/>
<line x1="105.50" y1="314.25" x2="105.50" y2="362.98" stroke="#86b3de" stroke-width="1.0"/>
<line x1="104.20" y1="314.25" x2="106.80" y2="314.25" stroke="#7a7a7a" stroke-width="0.8"/>
<line x1="104.20" y1="362.98" x2="106.80" y2="362.98" stroke="#7a7a7a" stroke-width="0.8"/>
<line x1="136.50" y1="254.02" x2="136.50" y2="320.99" stroke="#86b3de" stroke-width="1.0"/>
<line x1="135.20" y1="254.02" x2="137.80" y2="254.02" stroke="#7a7a7a" stroke-width="0.8"/>
<line x1="135.20" y1="320.99" x2="137.80" y2="320.99" stroke="#7a7a7a" stroke-width="0.8"/>
<line x1="166.50" y1="237.49" x2="166.50" y2="286.98" stroke="#86b3de" stroke-width="1.0"/>
<line x1="165.20" y1="237.49" x2="167.80" y2="237.49" stroke="#7a7a7a" stroke-width="0.8"/>
<line x1="165.20" y1="286.98" x2="167.80" y2="286.98" stroke="#7a7a7a" stroke-width="0.8"/>
<line x1="196.50" y1="322.51" x2="196.50" y2="362.03" stroke="#86b3de" stroke-width="1.0"/>
<line x1="195.20" y1="322.51" x2="197.80" y2="322.51" stroke="#7a7a7a" stroke-width="0.8"/>
<line x1="195.20" y1="362.03" x2="197.80" y2="362.03" stroke="#7a7a7a" stroke-width="0.8"/>
<line x1="226.50" y1="343.60" x2="226.50" y2="372.10" stroke="#86b3de" stroke-width="1.0"/>
<line x1="225.20" y1="343.60" x2="227.80" y2="343.60" stroke="#7a7a7a" stroke-width="0.8"/>
<line x1="256.50" y1="310.06" x2="256.50" y2="360.51" stroke="#86b3de" stroke-width="1.0"/>
<line x1="255.20" y1="310.06" x2="257.80" y2="310.06" stroke="#7a7a7a" stroke-width="0.8"/>
<line x1="255.20" y1="360.51" x2="257.80" y2="360.51" stroke="#7a7a7a" stroke-width="0.8"/>
<line x1="286.50" y1="347.69" x2="286.50" y2="372.10" stroke="#86b3de" stroke-width="1.0"/>
<line x1="317.50" y1="237.20" x2="317.50" y2="372.10" stroke="#86b3de" stroke-width="1.0"/>
<line x1="316.20" y1="237.20" x2="318.80" y2="237.20" stroke="#7a7a7a" stroke-width="0.8"/>
<line x1="45.50" y1="238.53" x2="45.50" y2="294.30" stroke="#e7956a" stroke-width="1.0"/>
<line x1="44.20" y1="238.53" x2="46.80" y2="238.53" stroke="#7a7a7a" stroke-width="0.8"/>
<line x1="44.20" y1="294.30" x2="46.80" y2="294.30" stroke="#7a7a7a" stroke-width="0.8"/>
<line x1="75.50" y1="241.29" x2="75.50" y2="295.53" stroke="#e7956a" stroke-width="1.0"/>
<line x1="74.20" y1="241.29" x2="76.80" y2="241.29" stroke="#7a7a7a" stroke-width="0.8"/>
<line x1="74.20" y1="295.53" x2="76.80" y2="295.53" stroke="#7a7a7a" stroke-width="0.8"/>
<line x1="105.50" y1="229.60" x2="105.50" y2="273.02" stroke="#e7956a" stroke-width="1.0"/>
<line x1="104.20" y1="273.02" x2="106.80" y2="273.02" stroke="#7a7a7a" stroke-width="0.8"/>
<line x1="136.50" y1="275.01" x2="136.50" y2="317.00" stroke="#e7956a" stroke-width="1.0"/>
<line x1="135.20" y1="275.01" x2="137.80" y2="275.01" stroke="#7a7a7a" stroke-width="0.8"/>
<line x1="135.20" y1="317.00" x2="137.80" y2="317.00" stroke="#7a7a7a" stroke-width="0.8"/>
<line x1="166.50" y1="286.98" x2="166.50" y2="325.84" stroke="#e7956a" stroke-width="1.0"/>
<line x1="165.20" y1="286.98" x2="167.80" y2="286.98" stroke="#7a7a7a" stroke-width="0.8"/>
<line x1="165.20" y1="325.84" x2="167.80" y2="325.84" stroke="#7a7a7a" stroke-width="0.8"/>
<line x1="196.50" y1="280.52" x2="196.50" y2="320.04" stroke="#e7956a" stroke-width="1.0"/>
<line x1="195.20" y1="280.52" x2="197.80" y2="280.52" stroke="#7a7a7a" stroke-width="0.8"/>
<line x1="195.20" y1="320.04" x2="197.80" y2="320.04" stroke="#7a7a7a" stroke-width="0.8"/>
<line x1="226.50" y1="317.95" x2="226.50" y2="348.45" stroke="#e7956a" stroke-width="1.0"/>
<line x1="225.20" y1="317.95" x2="227.80" y2="317.95" stroke="#7a7a7a" stroke-width="0.8"/>
<line x1="225.20" y1="348.45" x2="227.80" y2="348.45" stroke="#7a7a7a" stroke-width="0.8"/>
<line x1="256.50" y1="308.07" x2="256.50" y2="343.88" stroke="#e7956a" stroke-width="1.0"/>
<line x1="255.20" y1="308.07" x2="257.80" y2="308.07" stroke="#7a7a7a" stroke-width="0.8"/>
<line x1="255.20" y1="343.88" x2="257.80" y2="343.88" stroke="#7a7a7a" stroke-width="0.8"/>
<line x1="286.50" y1="292.49" x2="286.50" y2="347.69" stroke="#e7956a" stroke-width="1.0"/>
<line x1="285.20" y1="292.49" x2="287.80" y2="292.49" stroke="#7a7a7a" stroke-width="0.8"/>
<line x1="317.50" y1="243.85" x2="317.50" y2="365.64" stroke="#e7956a" stroke-width="1.0"/>
<line x1="316.20" y1="243.85" x2="318.80" y2="243.85" stroke="#7a7a7a" stroke-width="0.8"/>
<line x1="316.20" y1="365.64" x2="318.80" y2="365.64" stroke="#7a7a7a" stroke-width="0.8"/>
<circle cx="45.59" cy="266.18" r="2.65" fill="#ed7d31"/>
<circle cx="75.75" cy="267.60" r="2.65" fill="#ed7d31"/>
<circle cx="105.92" cy="242.24" r="2.65" fill="#ed7d31"/>
<circle cx="136.09" cy="296.58" r="2.65" fill="#ed7d31"/>
<circle cx="166.26" cy="306.74" r="2.65" fill="#ed7d31"/>
<circle cx="196.44" cy="300.47" r="2.65" fill="#ed7d31"/>
<circle cx="226.60" cy="333.62" r="2.65" fill="#ed7d31"/>
<circle cx="256.77" cy="326.03" r="2.65" fill="#ed7d31"/>
<circle cx="286.94" cy="319.00" r="2.65" fill="#ed7d31"/>
<circle cx="317.12" cy="303.80" r="2.65" fill="#ed7d31"/>
<circle cx="45.59" cy="341.32" r="2.65" fill="#5b9bd5"/>
<circle cx="75.75" cy="273.02" r="2.65" fill="#5b9bd5"/>
<circle cx="105.92" cy="338.19" r="2.65" fill="#5b9bd5"/>
<circle cx="136.09" cy="287.36" r="2.65" fill="#5b9bd5"/>
<circle cx="166.26" cy="272.54" r="2.65" fill="#5b9bd5"/>
<circle cx="196.44" cy="341.99" r="2.65" fill="#5b9bd5"/>
<circle cx="226.60" cy="358.23" r="2.65" fill="#5b9bd5"/>
<circle cx="256.77" cy="335.81" r="2.65" fill="#5b9bd5"/>
<circle cx="286.94" cy="347.69" r="2.65" fill="#5b9bd5"/>
<circle cx="317.12" cy="318.62" r="2.65" fill="#5b9bd5"/>
</svg></body></html>
